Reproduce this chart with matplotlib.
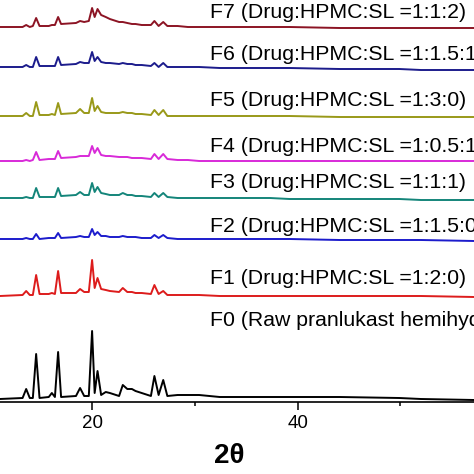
import numpy as np
import matplotlib.pyplot as plt

plt.rcParams['font.family'] = ['Liberation Sans', 'DejaVu Sans']

# 2-theta positions (deg) shared by all patterns
two_theta = [11.0, 13.2, 13.55, 13.9, 14.2, 14.52, 14.85, 15.75, 16.05, 16.35,
             16.66, 16.95, 18.4, 18.8, 19.2, 19.65, 19.97, 20.22, 20.5, 20.85,
             21.3, 21.7, 22.6, 22.96, 23.4, 23.85, 24.2, 24.8, 25.7, 26.04,
             26.45, 26.9, 27.3, 28.3, 29.3, 30.4, 32.4, 37.3, 39.2, 44.1,
             49.9, 52.0, 57.2]

# intensities (a.u.) above each pattern's own baseline
f0 = [0, 1, 10, 1, 1, 45, 1, 2, 6, 2, 47, 2, 3, 11, 3, 3, 68, 6, 28, 4,
      7, 6, 3, 14, 10, 10, 8, 6, 3, 23, 4, 19, 3, 4, 4, 4, 2, 2, 2, 2, 1, 0, -1]
f1 = [0, 1, 5, 1, 1, 21, 2, 2, 3, 2, 25, 3, 3, 7, 4, 4, 36, 8, 18, 7,
      6, 5, 4, 8, 4, 4, 3, 3, 2, 11, 2, 5, 1, 1, 1, 1, 0, 0, 0, 0, 0, 0, -1]
f2 = [0, 0, 1, 0, 0, 5, 0, 1, 1, 1, 6, 1, 2, 3, 2, 2, 10, 4, 7, 3,
      3, 2, 2, 3, 2, 2, 2, 1, 1, 4, 1, 4, 1, 0, 0, 0, 0, 0, 0, -1, -1, -1, -2]
f3 = [0, 0, 1, 0, 0, 10, 1, 1, 1, 1, 10, 2, 3, 6, 3, 3, 15, 6, 11, 5,
      4, 3, 3, 5, 3, 3, 2, 2, 1, 5, 1, 5, 1, 0, 0, 0, 0, 0, -1, -1, -1, -2, -2]
f4 = [0, 0, 1, 0, 1, 9, 1, 2, 2, 2, 10, 3, 4, 5, 5, 5, 15, 8, 13, 6,
      5, 5, 4, 4, 4, 3, 3, 3, 2, 7, 2, 7, 2, 1, 1, 0, 0, 0, 0, 0, 0, 0, 0]
f5 = [0, 0, 3, 0, 0, 14, 1, 1, 2, 1, 13, 2, 3, 7, 3, 3, 18, 5, 10, 4,
      3, 3, 3, 4, 3, 3, 2, 2, 1, 6, 1, 6, 0, 0, 0, 0, 0, 0, 0, -1, -1, -1, -1]
f6 = [0, 0, 2, 0, 0, 10, 1, 1, 1, 1, 10, 2, 3, 5, 4, 4, 15, 6, 10, 5,
      4, 4, 3, 4, 3, 3, 2, 2, 1, 4, 0, 4, 0, 0, 0, 0, -1, -1, -1, -2, -2, -3, -3]
f7 = [0, 0, 2, 0, 1, 9, 1, 1, 2, 2, 10, 3, 4, 6, 5, 6, 19, 10, 18, 12,
      10, 8, 5, 5, 4, 3, 3, 2, 2, 6, 1, 5, 1, 1, 0, 0, 0, 0, 0, -1, -1, -1, -1]

patterns = [f0, f1, f2, f3, f4, f5, f6, f7]
offsets = [3, 106, 163, 204, 241, 286, 335, 375]
labels = ['F0 (Raw pranlukast hemihydrate)',
          'F1 (Drug:HPMC:SL =1:2:0)',
          'F2 (Drug:HPMC:SL =1:1.5:0)',
          'F3 (Drug:HPMC:SL =1:1:1)',
          'F4 (Drug:HPMC:SL =1:0.5:1)',
          'F5 (Drug:HPMC:SL =1:3:0)',
          'F6 (Drug:HPMC:SL =1:1.5:1)',
          'F7 (Drug:HPMC:SL =1:1:2)']
colors = ['#000000', '#dd1c1c', '#1c1ccc', '#14857a',
          '#d82ad8', '#999919', '#1c1c8c', '#8c1424']
label_y = [82, 124, 176, 220, 256, 301, 347, 389]

fig = plt.figure(figsize=(4.74, 4.74), dpi=100)
ax = fig.add_axes([0, 72 / 474, 1, 402 / 474])

x = np.array(two_theta)
for y, off, c, lab, ly in zip(patterns, offsets, colors, labels, label_y):
    ax.plot(x, np.array(y) + off, color=c, linewidth=1.4)
    ax.text(31.45, ly, lab, fontsize=15.3, color='black', va='center', ha='left')

ax.set_xlim(11.0, 57.17)
ax.set_ylim(0, 402)
for s in ['left', 'right', 'top']:
    ax.spines[s].set_visible(False)
ax.spines['bottom'].set_linewidth(1.2)
ax.set_yticks([])
ax.set_xticks([20, 40])
ax.set_xticks([30, 50], minor=True)
ax.tick_params(axis='x', which='major', direction='out', length=5.5, width=1.1,
               labelsize=13.5, pad=4)
ax.tick_params(axis='x', which='minor', direction='out', length=3, width=1.1)
fig.text(229 / 474, 18 / 474, '2θ', fontsize=20, fontweight='bold',
         ha='center', va='center')

fig.savefig('out.png', dpi=100)
